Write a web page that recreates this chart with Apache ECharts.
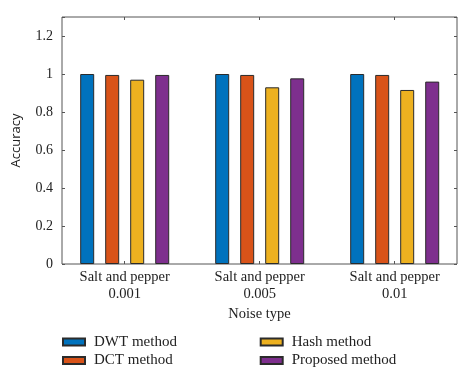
<!DOCTYPE html>
<html>
<head>
<meta charset="utf-8">
<script src="https://cdn.jsdelivr.net/npm/echarts@6/dist/echarts.min.js"></script>
<style>html,body{margin:0;padding:0;background:#fff;}#c{width:474px;height:383px;}</style>
</head>
<body>
<div id="c"></div>
<script>
const categories = ['Salt and pepper\n0.001', 'Salt and pepper\n0.005', 'Salt and pepper\n0.01'];
const seriesNames = ['DWT method', 'DCT method', 'Hash method', 'Proposed method'];
const dwt = [1.0, 1.0, 1.0];
const dct = [0.995, 0.995, 0.995];
const hash = [0.97, 0.93, 0.916];
const proposed = [0.995, 0.977, 0.96];
const yTicks = [0, 0.2, 0.4, 0.6, 0.8, 1, 1.2];
const colors = ['#0072BD', '#D95319', '#EDB120', '#7E2F8E'];

const serif = '"Liberation Serif", "DejaVu Serif", serif';
const axisColor = '#555';
const values = [dwt, dct, hash, proposed];

const chart = echarts.init(document.getElementById('c'), null, {renderer: 'canvas'});

const fmt = v => {
  const hit = yTicks.find(t => Math.abs(t - v) < 1e-6);
  return hit === undefined ? '' : String(hit);
};

const legendPos = [[62, 334.5], [62, 353], [259.7, 334.5], [259.7, 353]];

chart.setOption({
  animation: false,
  grid: [
    {left: 57.2, right: 11.8, top: 17, bottom: 119, outerBoundsMode: 'none', containLabel: false},
    {left: 62, right: 17, top: 17, bottom: 119, show: true, borderColor: axisColor, borderWidth: 1,
     backgroundColor: 'transparent', outerBoundsMode: 'none', containLabel: false}
  ],
  xAxis: [
    {type: 'category', gridIndex: 0, data: categories, position: 'bottom',
     axisLine: {show: false},
     axisTick: {show: true, inside: true, alignWithLabel: true, length: 3, lineStyle: {color: axisColor}},
     axisLabel: {fontFamily: serif, fontSize: 14.5, color: '#222', margin: 4, lineHeight: 17.6}},
    {type: 'category', gridIndex: 0, data: categories, position: 'top',
     axisLine: {show: false},
     axisTick: {show: true, inside: true, alignWithLabel: true, length: 3, lineStyle: {color: axisColor}},
     axisLabel: {show: false}},
    {type: 'value', gridIndex: 1, min: 0, max: 1, show: true,
     axisLine: {show: false}, axisTick: {show: false}, axisLabel: {show: false}, splitLine: {show: false},
     name: 'Noise type', nameLocation: 'middle', nameGap: 42.5,
     nameTextStyle: {fontFamily: serif, fontSize: 14.5, color: '#222'}}
  ],
  yAxis: [
    {type: 'value', gridIndex: 0, min: 0, max: 1.3, show: false, splitLine: {show: false}},
    {type: 'value', gridIndex: 1, min: 0, max: 1.3, interval: 0.2, position: 'left',
     axisLine: {show: false},
     axisTick: {show: true, inside: true, length: 3, lineStyle: {color: axisColor}},
     axisLabel: {formatter: fmt, fontFamily: serif, fontSize: 14, color: '#222', margin: 9},
     splitLine: {show: false},
     name: 'Accuracy', nameLocation: 'middle', nameGap: 39,
     nameTextStyle: {fontFamily: '"Open Sans", sans-serif', fontSize: 13, color: '#222'}},
    {type: 'value', gridIndex: 1, min: 0, max: 1.3, interval: 0.2, position: 'right',
     axisLine: {show: false},
     axisTick: {show: true, inside: true, length: 3, lineStyle: {color: axisColor}},
     axisLabel: {show: false}, splitLine: {show: false}}
  ],
  legend: seriesNames.map((n, i) => ({
    data: [n], left: legendPos[i][0], top: legendPos[i][1], orient: 'vertical',
    itemWidth: 22, itemHeight: 7, itemGap: 0, padding: 0, icon: 'rect',
    textStyle: {fontFamily: serif, fontSize: 15, color: '#222', padding: [0, 0, 0, 4]},
    selectedMode: false
  })),
  series: seriesNames.map((n, i) => ({
    name: n, type: 'bar', xAxisIndex: 0, yAxisIndex: 0,
    data: values[i], barWidth: 14, barGap: '78.6%',
    itemStyle: {color: colors[i], borderColor: '#2b2b2b', borderWidth: 1}
  }))
});
</script>
</body>
</html>
